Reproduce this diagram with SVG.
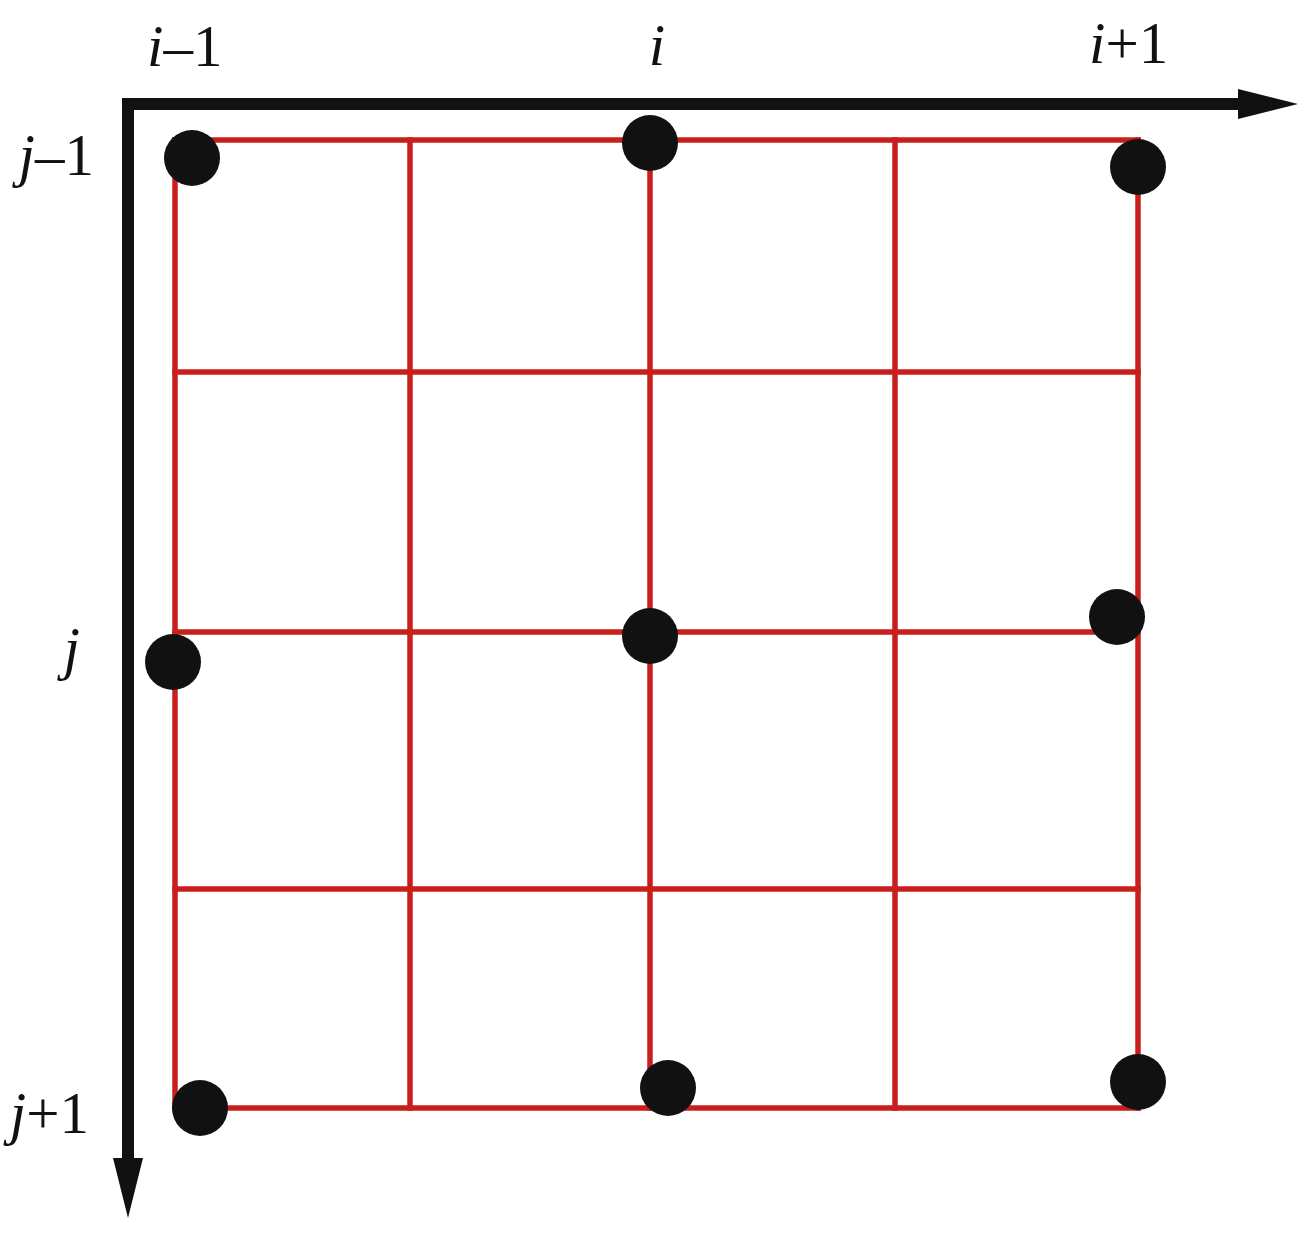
<svg xmlns="http://www.w3.org/2000/svg" width="1301" height="1242" viewBox="0 0 1301 1242">
<style>
.grid line{stroke:#c91f1c;stroke-width:5.5;stroke-linecap:square}
.axis{fill:none;stroke:#111;stroke-width:12;stroke-linejoin:miter}
.head{fill:#111}
.dot{fill:#111}
.lbl{font-family:"Liberation Serif","Times New Roman",serif;font-size:59px;fill:#111}
.it{font-style:italic}
</style>
<rect width="1301" height="1242" fill="#fff"/>
<g id="grid" class="grid">
<line x1="175" y1="140" x2="1138" y2="140"/>
<line x1="175" y1="372" x2="1138" y2="372"/>
<line x1="175" y1="632" x2="1138" y2="632"/>
<line x1="175" y1="889" x2="1138" y2="889"/>
<line x1="175" y1="1108" x2="1138" y2="1108"/>
<line x1="175" y1="140" x2="175" y2="1108"/>
<line x1="410" y1="140" x2="410" y2="1108"/>
<line x1="650" y1="140" x2="650" y2="1108"/>
<line x1="895" y1="140" x2="895" y2="1108"/>
<line x1="1138" y1="140" x2="1138" y2="1108"/>
</g>
<g id="axes">
<path class="axis" d="M1245 104 H128 V1165"/>
<polygon class="head" points="1238,89 1298,104 1238,119"/>
<polygon class="head" points="113,1158 143,1158 128,1218"/>
</g>
<g id="dots">
<circle class="dot" cx="192" cy="158" r="28"/>
<circle class="dot" cx="650" cy="143" r="28"/>
<circle class="dot" cx="1138" cy="167" r="28"/>
<circle class="dot" cx="173" cy="662" r="28"/>
<circle class="dot" cx="650" cy="636" r="28"/>
<circle class="dot" cx="1117" cy="617" r="28"/>
<circle class="dot" cx="200" cy="1108" r="28"/>
<circle class="dot" cx="668" cy="1088" r="28"/>
<circle class="dot" cx="1138" cy="1082" r="28"/>
</g>
<g id="labels">
<text class="lbl" x="147" y="66"><tspan class="it">i</tspan>–1</text>
<text class="lbl" x="657" y="65" text-anchor="middle"><tspan class="it">i</tspan></text>
<text class="lbl" x="1089" y="63"><tspan class="it">i</tspan>+1</text>
<text class="lbl" x="94" y="175" text-anchor="end"><tspan class="it">j</tspan>–1</text>
<text class="lbl" x="80" y="668" text-anchor="end"><tspan class="it">j</tspan></text>
<text class="lbl" x="89" y="1133" text-anchor="end"><tspan class="it">j</tspan>+1</text>
</g>
</svg>
